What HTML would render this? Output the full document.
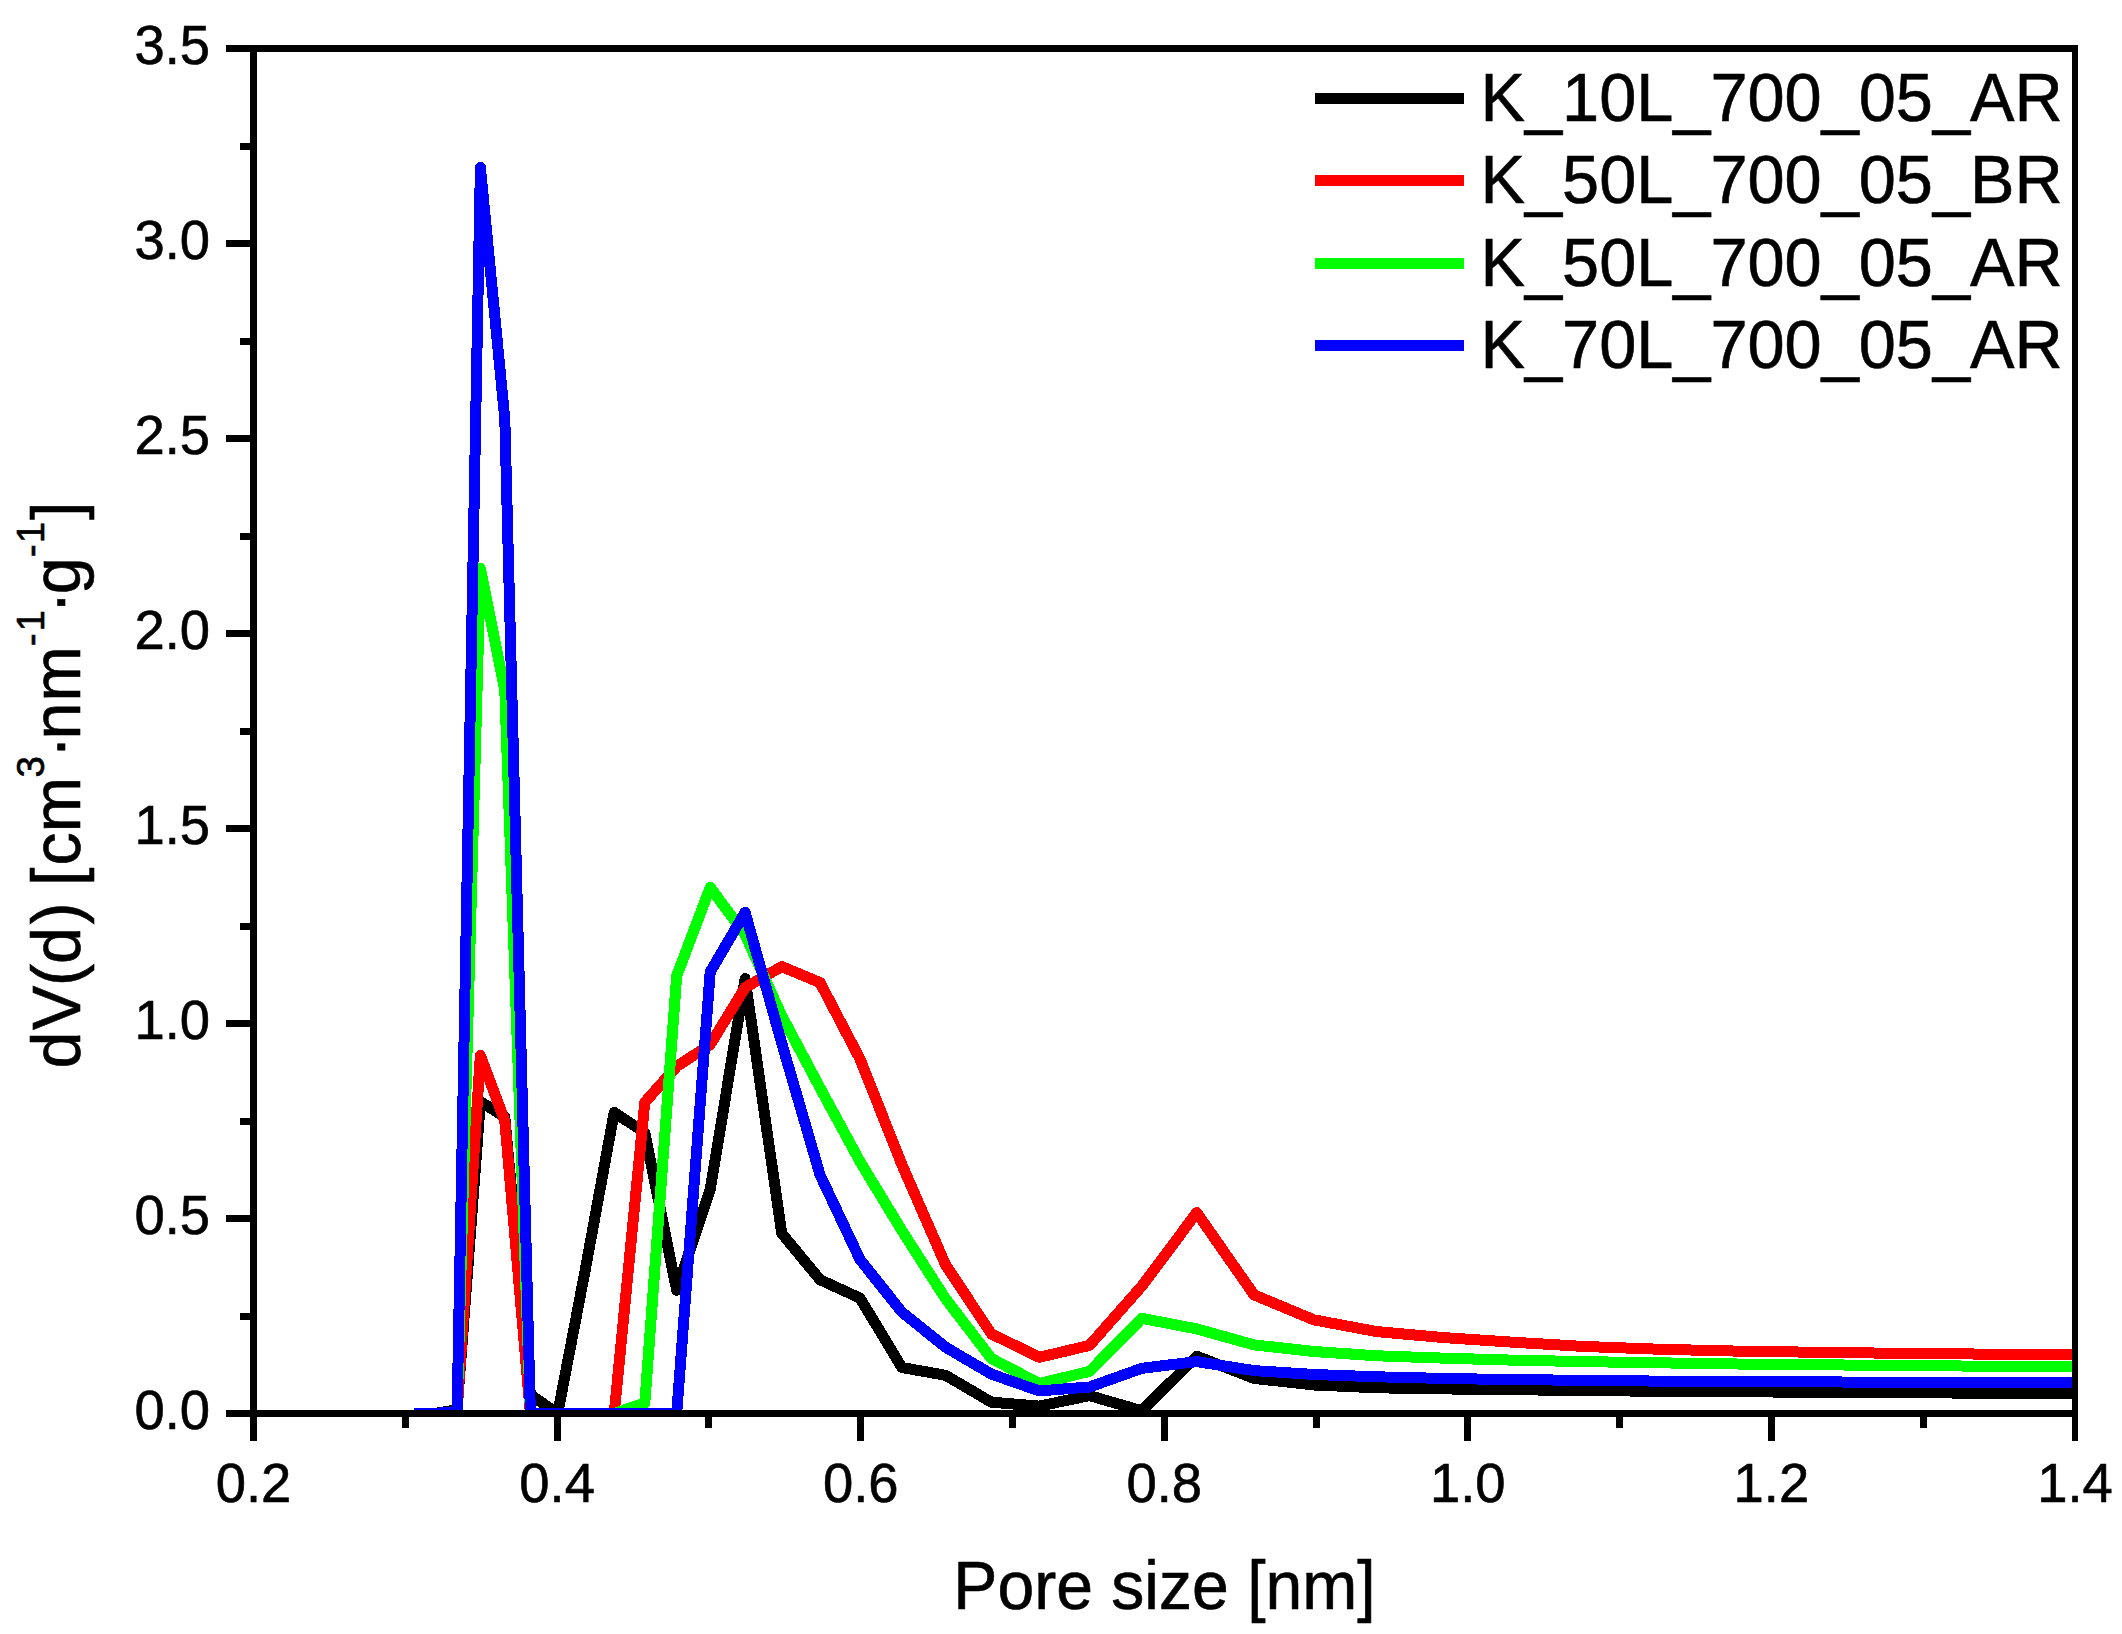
<!DOCTYPE html><html><head><meta charset="utf-8"><title>Pore size distribution</title>
<style>html,body{margin:0;padding:0;background:#fff}svg{display:block}text{font-family:"Liberation Sans",Arial,sans-serif;fill:#000;stroke:#000;stroke-width:0.6px}</style></head><body>
<svg width="2122" height="1634" viewBox="0 0 2122 1634">
<rect width="2122" height="1634" fill="#fff"/>
<defs><clipPath id="c"><rect x="253.5" y="48.5" width="1821.5" height="1365"/></clipPath></defs>
<g clip-path="url(#c)" fill="none" stroke-width="11" stroke-linejoin="round" stroke-linecap="butt" shape-rendering="crispEdges">
<polyline points="413.5,1413.5 434.8,1413.5 457.1,1409.6 480.4,1101.5 504.8,1117.1 530.4,1394.8 557.7,1413.5 585.0,1271.2 614.2,1112.4 644.8,1132.7 676.7,1290.3 710.2,1189.6 745.1,978.7 781.7,1233.3 820.0,1279.7 860.0,1298.1 901.9,1367.5 945.6,1375.3 991.4,1402.2 1039.4,1406.1 1089.5,1395.6 1141.9,1410.8 1196.7,1356.2 1254.1,1378.4 1314.1,1385.0 1376.8,1387.8 1442.4,1388.9 1511.1,1389.7 1582.9,1390.5 1658.0,1391.3 1736.6,1391.7 1818.8,1392.4 1904.8,1392.8 1994.7,1393.2 2088.8,1393.6" stroke="#000"/>
<polyline points="413.5,1413.5 434.8,1413.5 457.1,1411.5 480.4,1055.5 504.8,1121.0 530.4,1413.5 557.7,1413.5 585.0,1413.5 614.2,1413.5 644.8,1102.3 676.7,1066.4 710.2,1044.6 745.1,987.6 781.7,966.6 820.0,982.5 860.0,1059.0 901.9,1164.7 945.6,1264.9 991.4,1333.9 1039.4,1357.3 1089.5,1345.4 1141.9,1286.0 1196.7,1212.7 1254.1,1294.9 1314.1,1319.9 1376.8,1331.6 1442.4,1337.5 1511.1,1342.1 1582.9,1346.4 1658.0,1349.2 1736.6,1351.1 1818.8,1352.3 1904.8,1353.4 1994.7,1354.2 2088.8,1354.6" stroke="#f00"/>
<polyline points="413.5,1413.5 434.8,1413.5 457.1,1411.5 480.4,568.4 504.8,690.1 530.4,1413.5 557.7,1413.5 585.0,1413.5 614.2,1413.5 644.8,1403.0 676.7,975.9 710.2,887.4 745.1,934.6 781.7,1015.7 820.0,1087.8 860.0,1161.6 901.9,1230.6 945.6,1298.8 991.4,1358.5 1039.4,1383.5 1089.5,1371.4 1141.9,1318.3 1196.7,1328.9 1254.1,1344.9 1314.1,1351.5 1376.8,1355.8 1442.4,1358.1 1511.1,1360.1 1582.9,1361.6 1658.0,1362.8 1736.6,1364.0 1818.8,1364.8 1904.8,1365.5 1994.7,1366.3 2088.8,1366.5" stroke="#0f0"/>
<polyline points="413.5,1413.5 434.8,1413.5 457.1,1411.5 480.4,167.5 504.8,419.0 530.4,1413.5 557.7,1413.5 585.0,1413.5 614.2,1413.5 644.8,1413.5 676.7,1413.5 710.2,972.0 745.1,912.4 781.7,1043.0 820.0,1174.8 860.0,1259.5 901.9,1312.1 945.6,1347.2 991.4,1374.1 1039.4,1390.9 1089.5,1387.0 1141.9,1368.3 1196.7,1361.6 1254.1,1370.6 1314.1,1374.5 1376.8,1376.8 1442.4,1378.4 1511.1,1379.6 1582.9,1380.3 1658.0,1381.1 1736.6,1381.5 1818.8,1381.9 1904.8,1382.3 1994.7,1382.5 2088.8,1382.5" stroke="#00f"/>
</g>
<g fill="#000" shape-rendering="crispEdges">
<rect x="250" y="45" width="7" height="1396"/>
<rect x="2072" y="45" width="6" height="1396"/>
<rect x="226" y="45" width="1852" height="7"/>
<rect x="226" y="1410" width="1852" height="7"/>
<rect x="226" y="1410.0" width="24" height="7"/>
<rect x="240" y="1312.5" width="10" height="7"/>
<rect x="226" y="1215.0" width="24" height="7"/>
<rect x="240" y="1117.5" width="10" height="7"/>
<rect x="226" y="1020.0" width="24" height="7"/>
<rect x="240" y="922.5" width="10" height="7"/>
<rect x="226" y="825.0" width="24" height="7"/>
<rect x="240" y="727.5" width="10" height="7"/>
<rect x="226" y="630.0" width="24" height="7"/>
<rect x="240" y="532.5" width="10" height="7"/>
<rect x="226" y="435.0" width="24" height="7"/>
<rect x="240" y="337.5" width="10" height="7"/>
<rect x="226" y="240.0" width="24" height="7"/>
<rect x="240" y="142.5" width="10" height="7"/>
<rect x="226" y="45.0" width="24" height="7"/>
<rect x="401.8" y="1417" width="7" height="11"/>
<rect x="553.6" y="1417" width="7" height="24"/>
<rect x="705.4" y="1417" width="7" height="11"/>
<rect x="857.2" y="1417" width="7" height="24"/>
<rect x="1009.0" y="1417" width="7" height="11"/>
<rect x="1160.8" y="1417" width="7" height="24"/>
<rect x="1312.5" y="1417" width="7" height="11"/>
<rect x="1464.3" y="1417" width="7" height="24"/>
<rect x="1616.1" y="1417" width="7" height="11"/>
<rect x="1767.9" y="1417" width="7" height="24"/>
<rect x="1919.7" y="1417" width="7" height="11"/>
</g>
<text transform="translate(210.0,1429.2) scale(1,1.030)" font-size="54.4" text-anchor="end">0.0</text>
<text transform="translate(210.0,1234.2) scale(1,1.030)" font-size="54.4" text-anchor="end">0.5</text>
<text transform="translate(210.0,1039.2) scale(1,1.030)" font-size="54.4" text-anchor="end">1.0</text>
<text transform="translate(210.0,844.2) scale(1,1.030)" font-size="54.4" text-anchor="end">1.5</text>
<text transform="translate(210.0,649.2) scale(1,1.030)" font-size="54.4" text-anchor="end">2.0</text>
<text transform="translate(210.0,454.2) scale(1,1.030)" font-size="54.4" text-anchor="end">2.5</text>
<text transform="translate(210.0,259.2) scale(1,1.030)" font-size="54.4" text-anchor="end">3.0</text>
<text transform="translate(210.0,64.2) scale(1,1.030)" font-size="54.4" text-anchor="end">3.5</text>
<text transform="translate(253.5,1501.5) scale(1,1.030)" font-size="54.4" text-anchor="middle">0.2</text>
<text transform="translate(557.1,1501.5) scale(1,1.030)" font-size="54.4" text-anchor="middle">0.4</text>
<text transform="translate(860.7,1501.5) scale(1,1.030)" font-size="54.4" text-anchor="middle">0.6</text>
<text transform="translate(1164.2,1501.5) scale(1,1.030)" font-size="54.4" text-anchor="middle">0.8</text>
<text transform="translate(1467.8,1501.5) scale(1,1.030)" font-size="54.4" text-anchor="middle">1.0</text>
<text transform="translate(1771.4,1501.5) scale(1,1.030)" font-size="54.4" text-anchor="middle">1.2</text>
<text transform="translate(2075.0,1501.5) scale(1,1.030)" font-size="54.4" text-anchor="middle">1.4</text>
<text transform="translate(1164.5,1608.5) scale(1,1.030)" font-size="66.1" text-anchor="middle">Pore size [nm]</text>
<text transform="translate(80,785.5) rotate(-90) scale(1,1.030)" font-size="66.4" x="-283.1 -244.4 -200.4 -178.5 -139.1 -118.3 -100.4 -80.0 -46.7 8.1 27.4 46.1 84.0 139.3 154.1 172.0 191.3 228.3 242.3 265.6">dV(d) [cm<tspan font-size="38.4" dy="-34.9">3</tspan><tspan dy="34.9">·nm</tspan><tspan font-size="38.4" dy="-34.9">-1</tspan><tspan dy="34.9">·g</tspan><tspan font-size="38.4" dy="-34.9">-1</tspan><tspan dy="34.9">]</tspan></text>
<rect x="1315" y="93.0" width="149" height="11" fill="#000" shape-rendering="crispEdges"/>
<text transform="translate(1480.5,120.8) scale(1,1.030)" font-size="66.7" text-anchor="start">K_10L_700_05_AR</text>
<rect x="1315" y="175.0" width="149" height="11" fill="#f00" shape-rendering="crispEdges"/>
<text transform="translate(1480.5,203.3) scale(1,1.030)" font-size="66.7" text-anchor="start">K_50L_700_05_BR</text>
<rect x="1315" y="258.0" width="149" height="11" fill="#0f0" shape-rendering="crispEdges"/>
<text transform="translate(1480.5,285.8) scale(1,1.030)" font-size="66.7" text-anchor="start">K_50L_700_05_AR</text>
<rect x="1315" y="340.0" width="149" height="11" fill="#00f" shape-rendering="crispEdges"/>
<text transform="translate(1480.5,368.3) scale(1,1.030)" font-size="66.7" text-anchor="start">K_70L_700_05_AR</text>
</svg></body></html>
